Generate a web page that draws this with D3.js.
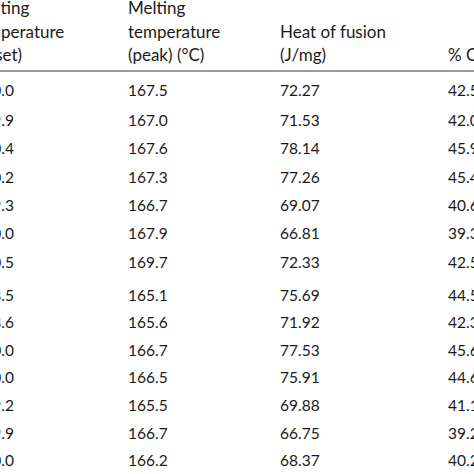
<!DOCTYPE html><html><head><meta charset="utf-8"><script src="https://cdn.jsdelivr.net/npm/d3@7"></script>
<style>body{margin:0;background:#fff}text{font-family:Lato,"Open Sans",sans-serif;fill:#1a1a1a}.d{font-size:15.5px}.h{font-size:17px}</style></head><body><svg id="c" width="474" height="474"></svg><script>
const onset=["160.0","159.9","160.4","160.2","159.3","160.0","160.5","158.5","158.6","160.0","160.0","159.2","159.9","160.0"];
const peak=["167.5","167.0","167.6","167.3","166.7","167.9","169.7","165.1","165.6","166.7","166.5","165.5","166.7","166.2"];
const heat=["72.27","71.53","78.14","77.26","69.07","66.81","72.33","75.69","71.92","77.53","75.91","69.88","66.75","68.37"];
const cryst=["42.5","42.0","45.9","45.4","40.6","39.3","42.5","44.5","42.3","45.6","44.6","41.1","39.2","40.2"];
const headers=[["Melting","temperature","(onset)"],["Melting","temperature","(peak) (°C)"],["","Heat of fusion","(J/mg)"],["","","% Crystallinity"]];
const rowY=[90,120,148,177,205,233,262,295,322,350,377,405,433,460];
const svg=d3.select("#c");
const y=d3.scaleOrdinal().domain(d3.range(14)).range(rowY);
const hx=[-28,128,280,448];
headers.forEach((h,i)=>h.forEach((t,j)=>svg.append("text").attr("class","h").attr("x",hx[i]).attr("y",[14,38,61][j]).text(t)));
svg.append("line").attr("x1",0).attr("x2",474).attr("y1",71).attr("y2",71).attr("stroke","#333").attr("stroke-width",1);
const cols=[[onset,14,"end"],[peak,128,"start"],[heat,280,"start"],[cryst,448,"start"]];
cols.forEach(([arr,x,a])=>svg.selectAll(null).data(arr).join("text").attr("class","d").attr("x",x).attr("text-anchor",a).attr("y",(d,i)=>y(i)+6).text(d=>d));
</script></body></html>
